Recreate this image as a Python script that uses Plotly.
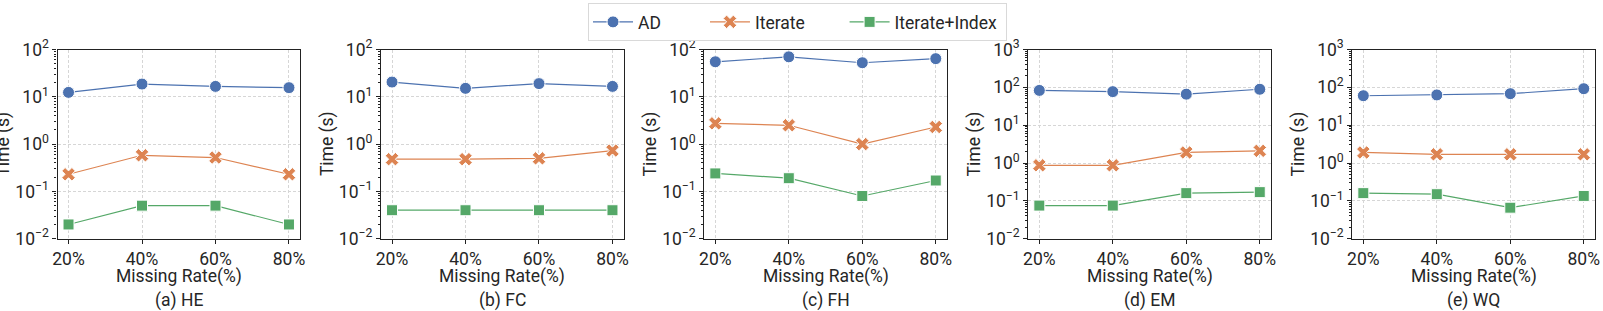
import plotly.graph_objects as go

W, H = 1603, 311

rates = ["20%", "40%", "60%", "80%"]
panel_titles = ["(a) HE", "(b) FC", "(c) FH", "(d) EM", "(e) WQ"]
series_names = ["AD", "Iterate", "Iterate+Index"]

# Time (s) per dataset
ad_he = [12.4, 18.6, 16.6, 15.6]
iterate_he = [0.23, 0.58, 0.52, 0.23]
index_he = [0.02, 0.05, 0.05, 0.02]

ad_fc = [20.5, 15.1, 19.0, 16.6]
iterate_fc = [0.48, 0.48, 0.50, 0.73]
index_fc = [0.04, 0.04, 0.04, 0.04]

ad_fh = [55, 70, 52.5, 64]
iterate_fh = [2.75, 2.5, 1.0, 2.3]
index_fh = [0.24, 0.19, 0.08, 0.17]

ad_em = [83, 77, 66, 89]
iterate_em = [0.87, 0.87, 1.9, 2.1]
index_em = [0.075, 0.075, 0.16, 0.17]

ad_wq = [60, 63, 68, 92]
iterate_wq = [1.9, 1.7, 1.7, 1.7]
index_wq = [0.16, 0.15, 0.066, 0.135]

# upper limit exponent of the y axis per panel
y_top_exp = [2, 2, 2, 3, 3]

panels = [
    (ad_he, iterate_he, index_he),
    (ad_fc, iterate_fc, index_fc),
    (ad_fh, iterate_fh, index_fh),
    (ad_em, iterate_em, index_em),
    (ad_wq, iterate_wq, index_wq),
]

colors = ["#4C72B0", "#DD8452", "#55A868"]
symbols = ["circle", "x", "square"]
msizes = [12, 12, 11]
# extra spacing after legend labels (non-breaking spaces)
legend_pad = [9, 8, 1]

FONT = "Roboto"
TXT = "#262626"
FS = 17.5
GRID = "#d6d6d6"

lefts = [57.5, 381, 704.3, 1028.3, 1352.3]
pw = 242.5
top_px, bot_px = 49.5, 238.7


def px_x(x):
    return x / W


def px_y(y):
    return 1 - y / H


fig = go.Figure()
annotations = []
for i, (vals, ytop) in enumerate(zip(panels, y_top_exp)):
    ax = "" if i == 0 else str(i + 1)
    for j, v in enumerate(vals):
        fig.add_trace(go.Scatter(
            x=list(range(len(rates))), y=v,
            mode="lines+markers",
            name=series_names[j] + "\u00a0" * legend_pad[j],
            legendgroup=series_names[j],
            showlegend=(i == 0),
            line=dict(color=colors[j], width=1.2),
            marker=dict(symbol=symbols[j], size=msizes[j], color=colors[j],
                        line=dict(color="white", width=1)),
            xaxis="x" + ax, yaxis="y" + ax,
        ))
    exps = list(range(-2, ytop + 1))
    major = [10.0 ** e for e in exps]
    labels = ["10<sup>%s</sup>" % (str(e) if e >= 0 else "\u2212" + str(-e)) for e in exps]
    minor = [k * 10.0 ** e for e in exps[:-1] for k in range(2, 10)]
    dom_x = [px_x(lefts[i]), px_x(lefts[i] + pw)]
    dom_y = [px_y(bot_px), px_y(top_px)]
    fig.layout["xaxis" + ax] = dict(
        domain=dom_x, anchor="y" + ax, range=[-0.15, 3.15], automargin=False,
        tickmode="array", tickvals=list(range(len(rates))), ticktext=rates,
        showline=True, linecolor="#222222", linewidth=1.2, mirror=True,
        ticks="outside", ticklen=4, tickcolor="#222222",
        showgrid=True, gridcolor=GRID, griddash="3px,2px", gridwidth=0.8,
        zeroline=False,
        tickfont=dict(family=FONT, size=FS, color=TXT),
    )
    fig.layout["yaxis" + ax] = dict(
        domain=dom_y, anchor="x" + ax, type="log", range=[-2, ytop], automargin=False,
        tickmode="array", tickvals=major, ticktext=labels,
        showline=True, linecolor="#222222", linewidth=1.2, mirror=True,
        ticks="outside", ticklen=4, tickcolor="#222222",
        minor=dict(tickmode="array", tickvals=minor, ticks="outside", ticklen=2,
                   tickcolor="#222222", showgrid=False),
        showgrid=True, gridcolor=GRID, griddash="3px,2px", gridwidth=0.8,
        zeroline=False,
        tickfont=dict(family=FONT, size=FS, color=TXT),
    )
    cx = lefts[i] + pw / 2
    annotations.append(dict(
        text="Missing Rate(%)", x=px_x(cx), y=px_y(276), xref="paper", yref="paper",
        xanchor="center", yanchor="middle", showarrow=False,
        font=dict(family=FONT, size=FS, color=TXT)))
    annotations.append(dict(
        text=panel_titles[i], x=px_x(cx), y=px_y(300), xref="paper", yref="paper",
        xanchor="center", yanchor="middle", showarrow=False,
        font=dict(family=FONT, size=FS, color=TXT)))
    annotations.append(dict(
        text="Time (s)", x=px_x(lefts[i] - 54), y=px_y((top_px + bot_px) / 2),
        xref="paper", yref="paper", textangle=-90,
        xanchor="center", yanchor="middle", showarrow=False,
        font=dict(family=FONT, size=FS, color=TXT)))

fig.update_layout(
    width=W, height=H,
    margin=dict(l=0, r=0, t=0, b=0, autoexpand=False),
    paper_bgcolor="white", plot_bgcolor="white",
    annotations=annotations,
    showlegend=True,
    legend=dict(
        orientation="h", x=px_x(797.5), xanchor="center", y=px_y(3), yanchor="top",
        bordercolor="#d9d9d9", borderwidth=1, bgcolor="white",
        itemwidth=40,
        font=dict(family=FONT, size=FS, color=TXT),
    ),
)

fig.write_html(
    "out.html",
    config={"displayModeBar": False},
    post_script="document.body.style.margin='0';document.body.style.overflow='hidden';",
)
